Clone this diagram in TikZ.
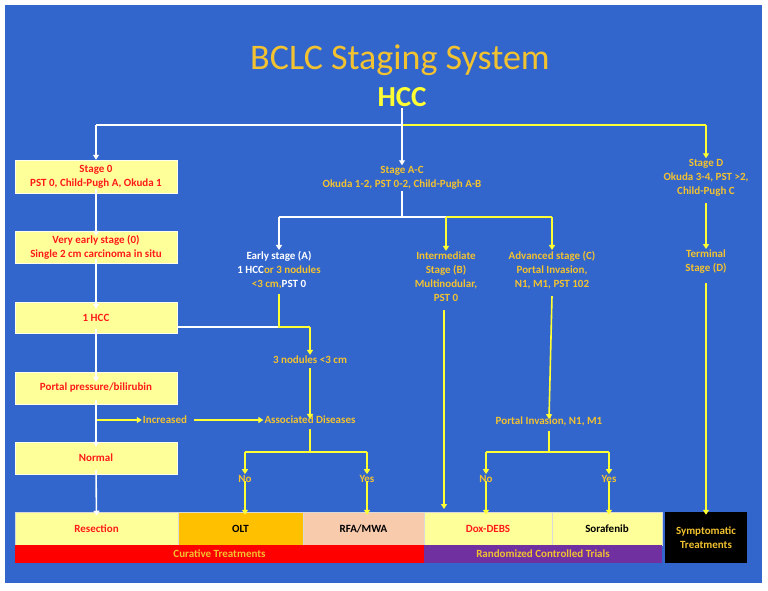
\documentclass[tikz,border=0pt]{standalone}
\usepackage{fontspec}
\setmainfont{Carlito}
\usetikzlibrary{arrows.meta}
\definecolor{bg}{HTML}{3366CC}
\definecolor{ln}{HTML}{FFFF33}
\definecolor{tx}{HTML}{F2C230}
\definecolor{bx}{HTML}{FFFF99}
\definecolor{rd}{HTML}{FF1A1A}
\definecolor{olt}{HTML}{FFC000}
\definecolor{rfa}{HTML}{F8CBAD}
\definecolor{pur}{HTML}{7030A0}
\tikzset{
 every node/.style={font=\bfseries\fontsize{11}{14}\selectfont, align=center, inner sep=1pt},
 wl/.style={draw=white, line width=1.6pt},
 yl/.style={draw=ln, line width=1.6pt},
 ar/.style={-{Triangle[length=5pt,width=6pt]}},
 lbox/.style={fill=bx, draw=white!80!bx, minimum width=162pt, text=rd, line width=0.5pt},
 t/.style={text=tx},
 bb/.style={minimum height=33pt, line width=0.5pt, draw=white!70!gray},
}
\begin{document}
\begin{tikzpicture}[x=1pt,y=-1pt]
\useasboundingbox[fill=white] (0,0) rectangle (768,591);
\fill[bg] (5,5) rectangle (762,583);
\node[text=tx, font=\fontsize{36}{40}\selectfont] (title) at (400,60) {BCLC Staging System};
\node[text=ln, font=\bfseries\fontsize{29}{32}\selectfont] (hcc) at (402,97) {HCC};
% top split
\coordinate (tl) at (96,125); \coordinate (tm) at (402,125); \coordinate (tr) at (706,125);
\draw[wl] (tl) -- (tm); \draw[yl] (tm) -- (tr);
\draw[wl] (hcc.south) -- (tm);
\node[lbox, minimum height=33pt] (s0) at (96,176.5) {Stage 0\\PST 0, Child-Pugh A, Okuda 1};
\node[lbox, minimum height=32pt] (ve) at (96,247) {Very early stage (0)\\Single 2 cm carcinoma in situ};
\node[lbox, minimum height=31pt] (one) at (96,317.5) {1 HCC};
\node[lbox, minimum height=32pt] (pp) at (96,388) {Portal pressure/bilirubin};
\node[lbox, minimum height=32pt] (nor) at (96,458) {Normal};
\draw[wl,ar] (tl) -- (s0.north);
\draw[wl,ar] ([yshift=4]s0.south) -- ([yshift=-5]ve.north);
\draw[wl,ar] ([yshift=4]ve.south) -- ([yshift=-7]one.north);
\draw[wl,ar] ([yshift=4]one.south) -- ([yshift=-10]pp.north);
\draw[wl,ar] ([yshift=4]pp.south) -- ([yshift=-5]nor.north);
\coordinate (inc0) at (97,420);
\node[t] (inc) at (165,420) {Increased};
\draw[yl,ar] (inc0) -- (inc.west);
% stage A-C
\node[t] (sac) at (402,178) {Stage A-C\\Okuda 1-2, PST 0-2, Child-Pugh A-B};
\draw[wl,ar] (tm) -- (sac.north);
\node[t] (sd) at (706,178) {Stage D\\Okuda 3-4, PST >2,\\Child-Pugh C};
\draw[yl,ar] (tr) -- (sd.north);
\coordinate (m1) at (279,217); \coordinate (m2) at (446,217); \coordinate (m3) at (552,217);
\draw[wl] (m1) -- (m2); \draw[yl] (m2) -- (m3);
\draw[wl] (sac.south) -- (402,217);
\node (ea) at (279,270) {\textcolor{white}{Early stage (A)}\\\textcolor{white}{1 HCC}\textcolor{tx}{ or 3 nodules}\\\textcolor{tx}{<3 cm,}\textcolor{white}{ PST 0}};
\node[t] (ib) at (446,277) {Intermediate\\Stage (B)\\Multinodular,\\PST 0};
\node[t] (ac) at (552,270) {Advanced stage (C)\\Portal Invasion,\\N1, M1, PST 102};
\node[t] (td) at (706,262) {Terminal\\Stage (D)};
\draw[wl,ar] (m1) -- (ea.north);
\draw[yl,ar] (m2) -- (ib.north);
\draw[yl,ar] (m3) -- (ac.north);
\draw[yl,ar] (sd.south) ++(0,5) -- (td.north);
% early branch
\coordinate (j) at (279,327);
\node[t] (n3) at (310,360) {3 nodules <3 cm};
\draw[wl] (one.east |- j) -- (j);
\draw[yl] ([yshift=-4]ea.south) -- (j) -- (310,327);
\draw[yl,ar] (310,327) -- (n3.north);
\node[t] (ad) at (310,420) {Associated Diseases};
\draw[yl,ar] ([yshift=-3]n3.south) -- ([yshift=-4]ad.north);
\draw[yl,ar] ([xshift=6]inc.east) -- (ad.west);
\node[t] (no1) at (245,479) {No};
\node[t] (ye1) at (367,479) {Yes};
\draw[yl] ([yshift=-4]ad.south) -- (310,452);
\draw[yl,ar] (245,452) -- (no1.north);
\draw[yl,ar] (367,452) -- (ye1.north);
\draw[yl] (245,452) -- (367,452);
% advanced branch
\node[t] (pi) at (549,421) {Portal Invasion, N1, M1};
\draw[yl,ar] ([yshift=-6]ac.south) -- ([yshift=-4]pi.north);
\node[t] (no2) at (486,479) {No};
\node[t] (ye2) at (609,479) {Yes};
\draw[yl] ([yshift=-4]pi.south) -- (549,452);
\draw[yl] (486,452) -- (609,452);
\draw[yl,ar] (486,452) -- (no2.north);
\draw[yl,ar] (609,452) -- (ye2.north);
% bottom boxes
\node[bb, fill=bx, text=rd, minimum width=163pt] (res) at (96.5,528.5) {Resection};
\node[bb, fill=olt, text=black, minimum width=125pt] (olt) at (240.5,528.5) {OLT};
\node[bb, fill=rfa, text=black, minimum width=121pt] (rfa) at (363.5,528.5) {RFA/MWA};
\node[bb, fill=bx, text=rd, minimum width=128pt] (dox) at (488,528.5) {Dox-DEBS};
\node[bb, fill=bx, text=black, minimum width=110pt] (sor) at (607,528.5) {Sorafenib};
\node[fill=black, text=tx, minimum width=82pt, minimum height=51pt] (sym) at (706,537.5) {Symptomatic\\Treatments};
\node[fill=red, text=tx, minimum width=409pt, minimum height=18pt] (cur) at (219.5,554) {Curative Treatments};
\node[fill=pur, text=tx, minimum width=238pt, minimum height=18pt] (rct) at (543,554) {Randomized Controlled Trials};
\draw[wl,ar] ([yshift=4]nor.south) -- ([yshift=-4]res.north);
\draw[yl,ar] ([yshift=3]no1.south) -- ([yshift=-3]no1.south |- olt.north);
\draw[yl,ar] ([yshift=3]ye1.south) -- ([yshift=-3]ye1.south |- rfa.north);
\draw[yl,ar] ([yshift=3]no2.south) -- ([yshift=-3]no2.south |- dox.north);
\draw[yl,ar] ([yshift=3]ye2.south) -- ([yshift=-3]ye2.south |- sor.north);
\draw[yl,ar] (444,310) -- (444,509);
\draw[yl,ar] ([yshift=-8]td.south) -- ([yshift=-3]sym.north);
\end{tikzpicture}
\end{document}
